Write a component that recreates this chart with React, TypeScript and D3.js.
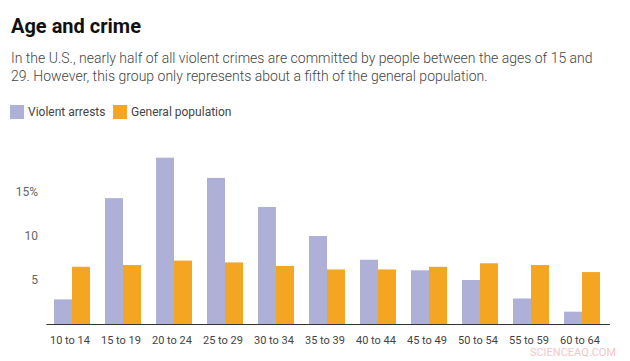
import * as d3 from "d3";
import { useEffect, useRef } from "react";

const ageGroups = [
  "10 to 14",
  "15 to 19",
  "20 to 24",
  "25 to 29",
  "30 to 34",
  "35 to 39",
  "40 to 44",
  "45 to 49",
  "50 to 54",
  "55 to 59",
  "60 to 64",
];
const violentArrests = [2.8, 14.3, 18.9, 16.6, 13.3, 10.0, 7.3, 6.1, 5.0, 2.9, 1.4];
const generalPopulation = [6.5, 6.7, 7.2, 7.0, 6.6, 6.2, 6.2, 6.5, 6.9, 6.7, 5.9];
const seriesNames = ["Violent arrests", "General population"];
const yTicks = [5, 10, 15];

const App = () => {
  const chartRef = useRef<HTMLDivElement>(null);

  useEffect(() => {
    const width = 630;
    const height = 361;
    const colors = ["#aeb0d7", "#f4a623"];
    const font = "Roboto, 'Noto Sans', sans-serif";

    d3.select(chartRef.current).select("svg").remove();

    const svg = d3
      .select(chartRef.current)
      .append("svg")
      .attr("width", width)
      .attr("height", height)
      .style("display", "block")
      .style("background", "#fff")
      .attr("font-family", font);

    svg
      .append("text")
      .attr("x", 11)
      .attr("y", 33)
      .attr("font-size", 20)
      .attr("font-weight", 700)
      .attr("fill", "#111")
      .text("Age and crime");

    const subtitle = [
      "In the U.S., nearly half of all violent crimes are committed by people between the ages of 15 and",
      "29. However, this group only represents about a fifth of the general population.",
    ];
    svg
      .append("g")
      .selectAll("text")
      .data(subtitle)
      .join("text")
      .attr("x", 11)
      .attr("y", (d, i) => 63 + i * 18)
      .attr("font-size", 14)
      .attr("font-weight", 300)
      .attr("fill", "#444")
      .text((d) => d);

    // legend
    const legendX = [10, 113];
    const legend = svg
      .append("g")
      .selectAll("g")
      .data(seriesNames)
      .join("g")
      .attr("transform", (d, i) => `translate(${legendX[i]}, 105)`);
    legend
      .append("rect")
      .attr("width", 14)
      .attr("height", 14)
      .attr("fill", (d, i) => colors[i]);
    legend
      .append("text")
      .attr("x", 18)
      .attr("y", 11)
      .attr("font-size", 12)
      .attr("fill", "#444")
      .text((d) => d);

    const x0 = d3
      .scaleBand()
      .domain(ageGroups)
      .range([46.5, 607.5])
      .paddingInner(0.294)
      .paddingOuter(0.147);
    const x1 = d3
      .scaleBand()
      .domain(seriesNames)
      .range([0, x0.bandwidth()]);
    const y = d3.scaleLinear().domain([0, 20]).range([324, 148]);

    const rows = ageGroups.map((g, i) => ({
      group: g,
      values: [violentArrests[i], generalPopulation[i]],
    }));

    const groups = svg
      .append("g")
      .selectAll("g")
      .data(rows)
      .join("g")
      .attr("transform", (d) => `translate(${x0(d.group)}, 0)`);

    groups
      .selectAll("rect")
      .data((d) => d.values)
      .join("rect")
      .attr("x", (d, i) => x1(seriesNames[i]) as number)
      .attr("y", (d) => y(d))
      .attr("width", x1.bandwidth())
      .attr("height", (d) => y(0) - y(d))
      .attr("fill", (d, i) => colors[i]);

    // y tick labels
    svg
      .append("g")
      .selectAll("text")
      .data(yTicks)
      .join("text")
      .attr("x", 38)
      .attr("y", (d) => y(d))
      .attr("dy", "0.35em")
      .attr("text-anchor", "end")
      .attr("font-size", 12)
      .attr("fill", "#666")
      .text((d) => (d === 15 ? `${d}%` : `${d}`));

    // baseline
    svg
      .append("line")
      .attr("x1", 46.5)
      .attr("x2", 610)
      .attr("y1", y(0) + 0.5)
      .attr("y2", y(0) + 0.5)
      .attr("stroke", "#333")
      .attr("stroke-width", 1);

    // x labels
    svg
      .append("g")
      .selectAll("text")
      .data(ageGroups)
      .join("text")
      .attr("x", (d) => (x0(d) as number) + x0.bandwidth() / 2 - 2)
      .attr("y", 344)
      .attr("text-anchor", "middle")
      .attr("font-size", 11)
      .attr("fill", "#444")
      .text((d) => d);

    svg
      .append("text")
      .attr("x", 616)
      .attr("y", 356)
      .attr("text-anchor", "end")
      .attr("font-size", 11)
      .attr("fill", "#f3c6ca")
      .text("SCIENCEAQ.COM");
  }, []);

  return (
    <div
      ref={chartRef}
      style={{ position: "absolute", top: 0, left: 0 }}
    ></div>
  );
};

export default App;
